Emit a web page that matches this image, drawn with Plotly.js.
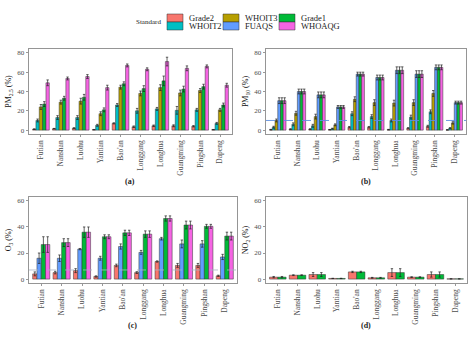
<!DOCTYPE html>
<html>
<head>
<meta charset="utf-8">
<script src="https://cdn.plot.ly/plotly-3.0.1.min.js"></script>
<style>html,body{margin:0;padding:0;background:#fff;}#chart{width:474px;height:338px;}</style>
</head>
<body>
<div id="chart"></div>
<script>
// ---------- data ----------
const cities = ['Futian','Nanshan','Luohu','Yantian',"Bao'an",'Longgang','Longhua','Guangming','Pingshan','Dapeng'];
const standards = ['Grade2','WHOIT2','WHOIT3','FUAQS','Grade1','WHOAQG'];
const standardColors = ['#F8766D','#00BFC4','#B79F00','#619CFF','#00BA38','#F564E3'];
const legendOrder = ['Grade2','WHOIT3','Grade1','WHOIT2','FUAQS','WHOAQG'];

// PM2.5 exceedance (%)
const pm25_Grade2 = [1,1.5,2,0.5,7,3.5,4.5,4.5,4,0.5];
const pm25_WHOIT2 = [10,13,13,5,26,20,22,20.5,21,7];
const pm25_WHOIT3 = [24,29,30,17,44.5,38,44,38.5,41,21];
const pm25_Grade1 = [27,33,34,21,48,43,51,42.5,45,26];
const pm25_WHOAQG = [49,53.5,55.5,44,67,63,71,64,66,46.5];
const pm25_err_Grade2 = [0.3,0.3,0.5,0.2,0.6,0.8,0.8,1,0.7,0.2];
const pm25_err_WHOIT2 = [1.5,2,2,1,1.5,2.5,1.5,4,1.5,1];
const pm25_err_WHOIT3 = [2.5,2,3,2,2,2.5,3,3,2,1.5];
const pm25_err_Grade1 = [2.5,2,3,2,2,3,5,3,2.5,2];
const pm25_err_WHOAQG = [3,1.5,2,2.5,1.5,1.5,4.5,2.5,1.5,2];

// PM10 exceedance (%)
const pm10_Grade2 = [0.5,1,1,0.5,3,3,0.5,2,4,0.3];
const pm10_WHOIT2 = [3,6,4.5,1.5,17,14,10,13.5,19,2];
const pm10_WHOIT3 = [10,17.5,14,5.5,32,28.5,28,28.5,38,7.5];
const pm10_FUAQS = [30.5,40,36.5,24,58,54.5,62,58,65,28.5];
const pm10_Grade1 = [30.5,40,36.5,24,58,54.5,62,58,65,28.5];
const pm10_WHOAQG = [30.5,40,36.5,24,58,54.5,62,58,65,28.5];
const pm10_err_Grade2 = [0.3,0.4,0.4,0.2,0.8,0.8,0.3,0.6,1,0.2];
const pm10_err_WHOIT2 = [1,1.5,1.5,0.5,2,2,1.5,2,2,0.6];
const pm10_err_WHOIT3 = [1.5,2,2.5,1,2.5,3,3,3,3,1.2];
const pm10_err_top = [3,2.5,3,1.5,2,2.5,3.5,3.5,2.5,1.5];
const pm10_refLine = 10;

// O3 exceedance (%)
const o3_Grade2 = [4,5,6.5,2,10.5,5,13.5,10.5,10.5,2.5];
const o3_FUAQS = [16,16,23,16,25,20.5,31,27,27,17];
const o3_Grade1 = [26.5,28,36,32.5,35.5,34.5,46.5,41.5,40.5,33];
const o3_WHOAQG = [26.5,28,36,32.5,35.5,34.5,46.5,41.5,40.5,33];
const o3_err_Grade2 = [1.5,1,1.5,0.5,1,0.7,0.5,1.5,1.5,0.5];
const o3_err_FUAQS = [4,2.5,0.5,1.5,2,1.5,1,3,2.5,2];
const o3_err_top = [6,3,4,1.5,2,2.5,2,3,1.5,3];
const o3_refLine = 7;

// NO2 exceedance (%)
const no2_Grade2 = [1.5,3,3.5,0.5,5.5,1,5,1.5,3.5,0.2];
const no2_Grade1 = [1.5,3,3.5,0.5,5.5,1,5,1.5,3.5,0.2];
const no2_err = [0.5,0.3,1.5,0.1,0.5,0.3,3,0.3,2,0];

// ---------- styling ----------
const FONT = 'Liberation Serif, Times New Roman, serif';
function colorOf(s){ return standardColors[standards.indexOf(s)]; }
function bar(std, y, err, ax){
  return {
    type:'bar', x:cities, y:y, name:std, xaxis:'x'+ax, yaxis:'y'+ax,
    marker:{color:colorOf(std), line:{color:'#333', width:0.5}},
    error_y:{type:'data', array:err, visible:true, color:'#222', thickness:0.7, width:1.2},
    showlegend:false, hoverinfo:'x+y+name'
  };
}
const traces = [
  bar('Grade2', pm25_Grade2, pm25_err_Grade2, ''),
  bar('WHOIT2', pm25_WHOIT2, pm25_err_WHOIT2, ''),
  bar('WHOIT3', pm25_WHOIT3, pm25_err_WHOIT3, ''),
  bar('Grade1', pm25_Grade1, pm25_err_Grade1, ''),
  bar('WHOAQG', pm25_WHOAQG, pm25_err_WHOAQG, ''),
  bar('Grade2', pm10_Grade2, pm10_err_Grade2, '2'),
  bar('WHOIT2', pm10_WHOIT2, pm10_err_WHOIT2, '2'),
  bar('WHOIT3', pm10_WHOIT3, pm10_err_WHOIT3, '2'),
  bar('FUAQS', pm10_FUAQS, pm10_err_top, '2'),
  bar('Grade1', pm10_Grade1, pm10_err_top, '2'),
  bar('WHOAQG', pm10_WHOAQG, pm10_err_top, '2'),
  bar('Grade2', o3_Grade2, o3_err_Grade2, '3'),
  bar('FUAQS', o3_FUAQS, o3_err_FUAQS, '3'),
  bar('Grade1', o3_Grade1, o3_err_top, '3'),
  bar('WHOAQG', o3_WHOAQG, o3_err_top, '3'),
  bar('Grade2', no2_Grade2, no2_err, '4'),
  bar('Grade1', no2_Grade1, no2_err, '4')
];
traces.forEach(t=>{ if(t.xaxis==='x'){} });
traces.forEach(t=>{ t.xaxis = t.xaxis==='x' ? 'x' : t.xaxis; t.yaxis = t.yaxis==='y' ? 'y' : t.yaxis; });

const W=474, H=338;
const px = v => v/W, py = v => 1 - v/H;

function xAx(d0,d1,anchor){
  return {domain:[px(d0),px(d1)], anchor:anchor, type:'category', range:[-0.6,9.6],
    tickangle:-90, ticks:'outside', ticklen:2.5, tickwidth:0.6, tickcolor:'#555',
    tickfont:{family:FONT,size:7.5,color:'#4d4d4d'}, showline:true, mirror:true,
    linecolor:'#7a7a7a', linewidth:0.8, showgrid:false, zeroline:false, automargin:false};
}
function yAx(t0,t1,anchor,range,tv,title){
  return {domain:[py(t1),py(t0)], anchor:anchor, range:range, tickvals:tv,
    ticks:'outside', ticklen:2.5, tickwidth:0.6, tickcolor:'#555',
    tickfont:{family:FONT,size:7,color:'#4d4d4d'}, showline:true, mirror:true,
    linecolor:'#7a7a7a', linewidth:0.8, showgrid:false, zeroline:false, automargin:false,
    title:{text:title, font:{family:FONT,size:8,color:'#111'}, standoff:4}};
}

const shapes = [
  {type:'line', xref:'x2 domain', yref:'y2', x0:0, x1:1, y0:pm10_refLine, y1:pm10_refLine,
   line:{color:'#5f8fe0', width:0.9, dash:'dash'}},
  {type:'line', xref:'x3 domain', yref:'y3', x0:0, x1:1, y0:o3_refLine, y1:o3_refLine,
   line:{color:'#aab4c6', width:0.8, dash:'dash'}}
];
const annotations = [];
// manual legend
legendOrder.forEach((s,i)=>{
  const c = i%3, r = Math.floor(i/3);
  const x0 = 167 + c*56, y0 = 14 + r*8;
  shapes.push({type:'rect', xref:'paper', yref:'paper', x0:px(x0), x1:px(x0+16), y0:py(y0+8), y1:py(y0),
    fillcolor:colorOf(s), line:{color:'#333', width:0.5}});
  annotations.push({xref:'paper', yref:'paper', x:px(x0+20), y:py(y0+4), text:s, showarrow:false,
    xanchor:'left', yanchor:'middle', font:{family:FONT,size:8.5,color:'#222'}});
});
annotations.push({xref:'paper', yref:'paper', x:px(163), y:py(22), text:'Standard', showarrow:false,
  xanchor:'right', yanchor:'middle', font:{family:FONT,size:7,color:'#222'}});
// panel captions
[['(a)',130,181],['(b)',366,181],['(c)',132,325],['(d)',366,325]].forEach(a=>{
  annotations.push({xref:'paper', yref:'paper', x:px(a[1]), y:py(a[2]), text:'<b>'+a[0]+'</b>', showarrow:false,
    xanchor:'center', yanchor:'middle', font:{family:FONT,size:8,color:'#222'}});
});

const layout = {
  width:W, height:H, margin:{l:0,r:0,t:0,b:0},
  paper_bgcolor:'#fff', plot_bgcolor:'#fff',
  barmode:'group', bargap:0.16, bargroupgap:0,
  showlegend:false,
  xaxis: xAx(29,232,'y'),
  yaxis: yAx(49,134,'x',[-4,84],[0,20,40,60,80],'PM<sub>2.5</sub> (%)'),
  xaxis2: xAx(266,466,'y2'),
  yaxis2: yAx(49,134,'x2',[-4,84],[0,20,40,60,80],'PM<sub>10</sub> (%)'),
  xaxis3: xAx(29,237,'y3'),
  yaxis3: yAx(197,283,'x3',[-3,63],[0,20,40,60],'O<sub>3</sub> (%)'),
  xaxis4: xAx(266,467,'y4'),
  yaxis4: yAx(197,283,'x4',[-3,63],[0,20,40,60],'NO<sub>2</sub> (%)'),
  shapes:shapes, annotations:annotations,
  font:{family:FONT}
};
Plotly.newPlot('chart', traces, layout, {staticPlot:true, displayModeBar:false});
</script>
</body>
</html>
